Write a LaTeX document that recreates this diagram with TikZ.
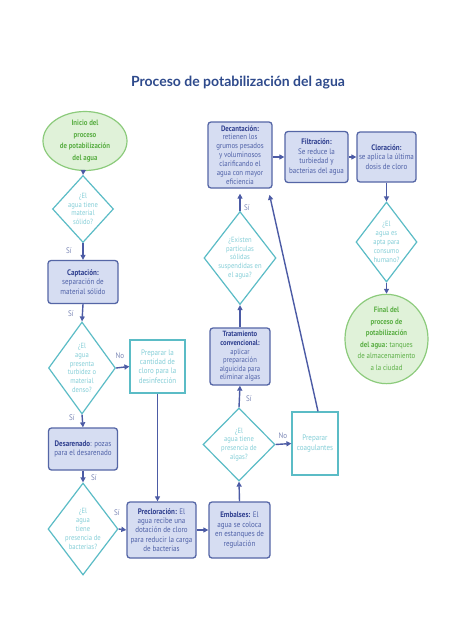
\documentclass[tikz,border=0pt]{standalone}
\usepackage{fontspec}
\setmainfont[FakeStretch=0.88]{PT Sans}
\newfontfamily\titlefont{Lato}
\usetikzlibrary{shapes.geometric,arrows.meta}
\definecolor{titleblue}{HTML}{2E4A8C}
\definecolor{boxfill}{HTML}{D6DDF2}
\definecolor{boxdraw}{HTML}{5566A6}
\definecolor{boxtext}{HTML}{5062A8}
\definecolor{boxbold}{HTML}{2F3F8F}
\definecolor{arrowc}{HTML}{4C5BA5}
\definecolor{diadraw}{HTML}{5BBCC6}
\definecolor{diatext}{HTML}{86CFD8}
\definecolor{ellfill}{HTML}{E0F2D9}
\definecolor{elldraw}{HTML}{8CCB7C}
\definecolor{elltext}{HTML}{5BAF45}
\definecolor{lblc}{HTML}{7A86B5}
\newcommand{\bt}[1]{{\bfseries\color{boxbold}#1}}
\begin{document}
\begin{tikzpicture}[x=1pt,y=-1pt,
  every node/.style={font=\fontsize{8}{9.4}\selectfont, inner sep=0pt},
  bluebox/.style={draw=boxdraw, fill=boxfill, line width=1.3pt, rounded corners=3pt, text=boxtext, align=center},
  cyanbox/.style={draw=diadraw, fill=white, line width=1.2pt, text=diatext, align=center},
  dia/.style={shape=diamond, draw=diadraw, line width=1.2pt, fill=white, inner sep=0pt},
  dtext/.style={text=diatext, align=center, font=\fontsize{7.5}{8.8}\selectfont},
  ell/.style={shape=ellipse, draw=elldraw, fill=ellfill, line width=1.2pt, text=elltext, align=center},
  conn/.style={draw=arrowc, line width=1.4pt, -{Triangle[length=5pt,width=5pt]}},
  lbl/.style={text=lblc, font=\fontsize{8}{9.6}\selectfont}
]
\useasboundingbox (0,0) rectangle (474,632);
\fill[white] (0,0) rectangle (474,632);

\node[text=titleblue, font=\titlefont\bfseries\fontsize{14}{16}\selectfont] (title) at (238,83) {Proceso de potabilización del agua};

\node[ell, minimum width=84pt, minimum height=52pt, font=\bfseries\fontsize{7.8}{11.5}\selectfont] (start) at (85,141)
  {Inicio del\\proceso\\de potabilización\\del agua};

\node[dia, minimum width=61pt, minimum height=67pt, label={[dtext]center:{¿El\\agua tiene\\material\\sólido?}}] (d1) at (83,209) {};

\node[bluebox, minimum width=70pt, minimum height=43pt] (cap) at (83,282)
  {\bt{Captación:}\\separación de\\material sólido};

\node[dia, minimum width=67pt, minimum height=92pt, label={[dtext]center:{¿El\\agua\\presenta\\turbidez o\\material\\denso?}}] (d2) at (82,368) {};

\node[cyanbox, minimum width=55pt, minimum height=53pt] (cloro) at (157.5,366.5)
  {Preparar la\\cantidad de\\cloro para la\\desinfección};

\node[bluebox, minimum width=69pt, minimum height=42pt] (des) at (83,449)
  {\bt{Desarenado}: pozas\\para el desarenado};

\node[dia, minimum width=70pt, minimum height=92pt, label={[dtext]center:{¿El\\agua\\tiene\\presencia de\\bacterias?}}] (d3) at (83,529) {};

\node[bluebox, minimum width=69pt, minimum height=56pt] (pre) at (161.5,530)
  {\bt{Precloración:} El\\agua recibe una\\dotación de cloro\\para reducir la carga\\de bacterias};

\node[bluebox, minimum width=61pt, minimum height=56pt] (emb) at (239.5,530)
  {\bt{Embalses:} El\\agua se coloca\\en estanques de\\regulación};

\node[dia, minimum width=72pt, minimum height=73pt, label={[dtext]center:{¿El\\agua tiene\\presencia de\\algas?}}] (d4) at (239,444.5) {};

\node[cyanbox, minimum width=46pt, minimum height=63pt] (coag) at (315,443.5)
  {Preparar\\coagulantes};

\node[bluebox, minimum width=60pt, minimum height=57pt, font=\fontsize{7.6}{8.6}\selectfont] (trat) at (240,356.5)
  {\bt{Tratamiento}\\\bt{convencional:}\\aplicar\\preparación\\alguicida para\\eliminar algas};

\node[dia, minimum width=72pt, minimum height=93pt, label={[dtext]center:{¿Existen\\partículas\\sólidas\\suspendidas en\\el agua?}}] (d5) at (240,258) {};

\node[bluebox, minimum width=64pt, minimum height=66pt, font=\fontsize{7.8}{8.9}\selectfont] (dec) at (240,155)
  {\bt{Decantación:}\\retienen los\\grumos pesados\\y voluminosos\\clarificando el\\agua con mayor\\eficiencia};

\node[bluebox, minimum width=63pt, minimum height=51pt] (fil) at (316.5,157)
  {\bt{Filtración:}\\Se reduce la\\turbiedad y\\bacterias del agua};

\node[bluebox, minimum width=59pt, minimum height=50pt] (clo) at (386.5,157)
  {\bt{Cloración:}\\se aplica la última\\dosis de cloro};

\node[dia, minimum width=61pt, minimum height=80pt, label={[dtext]center:{¿El\\agua es\\apta para\\consumo\\humano?}}] (d6) at (386.5,242) {};

\node[ell, minimum width=83pt, minimum height=82pt, font=\fontsize{7.8}{11.5}\selectfont] (fin) at (386.5,339)
  {\textbf{Final del}\\\textbf{proceso de}\\\textbf{potabilización}\\\textbf{del agua:} tanques\\de almacenamiento\\a la ciudad};

\coordinate (dectip) at (268,188);

% connectors
\draw[conn] (start) -- (d1.north);
\draw[conn] (d1.south) -- (cap.north);
\draw[conn] (cap.south) -- (d2.north);
\draw[conn] (d2.east) -- (cloro.west);
\draw[conn] (d2.south) -- (des.north);
\draw[conn] (cloro.south) -- (cloro.south |- pre.north);
\draw[conn] (des.south) -- (d3.north);
\draw[conn] (d3.east) -- (pre.west);
\draw[conn] (pre.east) -- (emb.west);
\draw[conn] (emb.north) -- (d4.south);
\draw[conn] (d4.north) -- (trat.south);
\draw[conn] (d4.east) -- (coag.west);
\draw[conn] (trat.north) -- (d5.south);
\draw[conn, shorten >=5pt] (d5.north) -- (dec.south);
\draw[conn, shorten >=7pt] ([xshift=3pt]coag.north) -- (dectip);
\draw[conn] (fil.west -| dec.east) -- (fil.west);
\draw[conn] (fil.east) -- (clo.west);
\draw[conn] (clo.south) -- (d6.north);
\draw[conn] (d6.south) -- (fin.north);

% labels
\node[lbl] (l1) at (69,251) {Sí};
\node[lbl] (l2) at (71,314) {Sí};
\node[lbl] (l3) at (120,356) {No};
\node[lbl] (l4) at (72,418) {Sí};
\node[lbl] (l5) at (94,478) {Sí};
\node[lbl] (l6) at (117,513) {Sí};
\node[lbl] (l7) at (249,399) {Sí};
\node[lbl] (l8) at (283,436) {No};
\node[lbl] (l9) at (247,208) {Sí};
\end{tikzpicture}
\end{document}
